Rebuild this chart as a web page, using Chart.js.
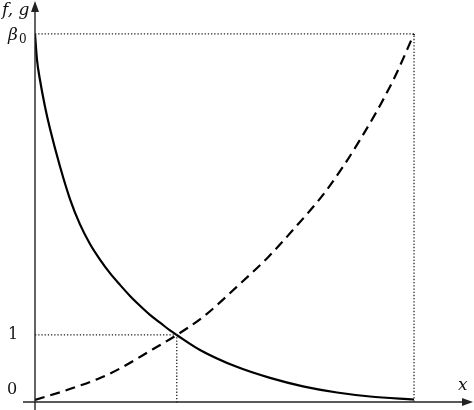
<!DOCTYPE html>
<html>
<head>
<meta charset="utf-8">
<title>f, g</title>
<script src="https://cdn.jsdelivr.net/npm/chart.js@4/dist/chart.umd.min.js"></script>
<style>
  body { margin: 0; background: #fff; }
  canvas { display: block; }
</style>
</head>
<body>
<canvas id="myChart" width="474" height="410"></canvas>
<script>
// Values (x in 0..10, y in units where 1 is the crossing level)
const BETA0 = 5.63;
const X_END = 10;
const X_CROSS = 3.74;

// Solid curve f (decreasing)
const fX = [0, 0.053, 0.132, 0.264, 0.396, 0.66, 0.923, 1.187, 1.451, 1.715, 1.979, 2.243, 2.507, 2.77, 3.034, 3.298, 3.562, 3.74, 4.354, 5.322, 6.201, 7.071, 7.968, 8.839, 10];
const fY = [5.63, 5.23, 4.92, 4.51, 4.17, 3.59, 3.09, 2.7, 2.4, 2.16, 1.95, 1.77, 1.6, 1.45, 1.31, 1.19, 1.07, 1.0, 0.77, 0.51, 0.34, 0.21, 0.115, 0.054, 0.008];

// Dashed curve g (increasing)
const gX = [0, 0.844, 1.715, 2.243, 3.121, 3.74, 4.441, 5.322, 6.156, 6.815, 7.697, 8.575, 9.454, 10];
const gY = [0, 0.154, 0.338, 0.485, 0.785, 1.0, 1.28, 1.74, 2.2, 2.62, 3.23, 4.0, 4.92, 5.63];

// Axis range (a little room past the curves for the arrows)
const X_MAX = 11.53;
const Y_MIN = -0.046;
const Y_MAX = 6.12;

const toPoints = (xs, ys) => xs.map((x, i) => ({ x, y: ys[i] }));

const MATH_FONT = "italic 17px 'DejaVu Serif', 'Liberation Serif', serif";
const NUM_FONT = "16px 'DejaVu Serif', 'Liberation Serif', serif";

/**
 * Draws the two arrowed axes and the math labels
 */
const axesPlugin = {
  id: "axesPlugin",
  afterDraw(chart) {
    const { ctx, chartArea, scales } = chart;
    const x0 = scales.x.getPixelForValue(0);
    const yBase = chartArea.bottom - 1;

    ctx.save();
    ctx.strokeStyle = "#222";
    ctx.fillStyle = "#222";
    ctx.lineWidth = 1.4;

    // x axis
    ctx.beginPath();
    ctx.moveTo(x0 - 12, yBase);
    ctx.lineTo(chartArea.right - 6, yBase);
    ctx.stroke();
    ctx.beginPath();
    ctx.moveTo(chartArea.right + 1, yBase);
    ctx.lineTo(chartArea.right - 10, yBase - 4);
    ctx.lineTo(chartArea.right - 10, yBase + 4);
    ctx.closePath();
    ctx.fill();

    // y axis
    ctx.beginPath();
    ctx.moveTo(x0, chartArea.bottom + 7);
    ctx.lineTo(x0, chartArea.top + 6);
    ctx.stroke();
    ctx.beginPath();
    ctx.moveTo(x0, chartArea.top - 1);
    ctx.lineTo(x0 - 4, chartArea.top + 10);
    ctx.lineTo(x0 + 4, chartArea.top + 10);
    ctx.closePath();
    ctx.fill();

    // labels
    ctx.fillStyle = "#111";
    ctx.textBaseline = "middle";
    ctx.textAlign = "left";
    ctx.font = MATH_FONT;
    ctx.fillText("f, g", 2, 11);
    ctx.fillText("β", 8, scales.y.getPixelForValue(BETA0) + 2);
    ctx.font = "12px 'DejaVu Serif', serif";
    ctx.fillText("0", 19, scales.y.getPixelForValue(BETA0) + 6);
    ctx.font = NUM_FONT;
    ctx.fillText("1", 8, scales.y.getPixelForValue(1));
    ctx.fillText("0", 7, scales.y.getPixelForValue(0) - 10);
    ctx.font = MATH_FONT;
    ctx.fillText("x", 458, yBase - 16);
    ctx.restore();
  },
};

const dotted = (points) => ({
  data: points,
  borderColor: "#222",
  borderWidth: 1.3,
  borderDash: [1.3, 1.9],
  pointRadius: 0,
  fill: false,
});

new Chart("myChart", {
  type: "line",
  data: {
    datasets: [
      dotted([{ x: 0, y: BETA0 }, { x: X_END, y: BETA0 }, { x: X_END, y: Y_MIN }]),
      dotted([{ x: 0, y: 1 }, { x: X_CROSS, y: 1 }, { x: X_CROSS, y: Y_MIN }]),
      {
        label: "f",
        data: toPoints(fX, fY),
        borderColor: "#000",
        borderWidth: 2.2,
        pointRadius: 0,
        cubicInterpolationMode: "monotone",
        fill: false,
      },
      {
        label: "g",
        data: toPoints(gX, gY),
        borderColor: "#000",
        borderWidth: 2.2,
        borderDash: [10, 6],
        pointRadius: 0,
        cubicInterpolationMode: "monotone",
        fill: false,
      },
    ],
  },
  options: {
    responsive: false,
    animation: false,
    layout: { padding: { left: 35, right: 2, top: 2, bottom: 7 } },
    plugins: { legend: { display: false }, tooltip: { enabled: false } },
    scales: {
      x: { type: "linear", min: 0, max: X_MAX, display: false },
      y: { type: "linear", min: Y_MIN, max: Y_MAX, display: false },
    },
  },
  plugins: [axesPlugin],
});
</script>
</body>
</html>
